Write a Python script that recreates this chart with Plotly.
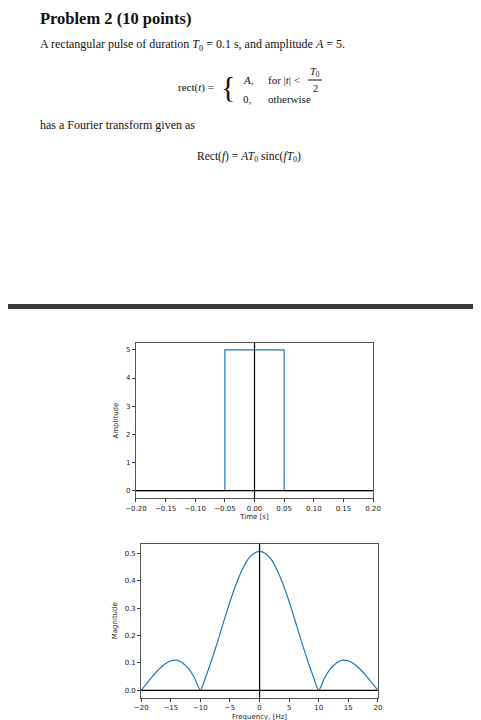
import plotly.graph_objects as go

# pulse
t = [-0.2, -0.05, -0.05, 0.05, 0.05, 0.2]
amp = [0, 0, 5, 5, 0, 0]

# magnitude spectrum
freq = list(range(-20, 21))
mag_half = [0.507, 0.499, 0.477, 0.437, 0.385, 0.323, 0.255, 0.184, 0.117, 0.055, 0.0,
            0.046, 0.079, 0.100, 0.110, 0.108, 0.096, 0.077, 0.054, 0.027, 0.0]
mag = mag_half[:0:-1] + mag_half

t_ticks = [-0.2, -0.15, -0.1, -0.05, 0.0, 0.05, 0.1, 0.15, 0.2]
t_labels = ["\u22120.20", "\u22120.15", "\u22120.10", "\u22120.05", "0.00", "0.05", "0.10", "0.15", "0.20"]
f_ticks = [-20, -15, -10, -5, 0, 5, 10, 15, 20]
f_labels = ["\u221220", "\u221215", "\u221210", "\u22125", "0", "5", "10", "15", "20"]

blue = "#1f77b4"
fig = go.Figure()
fig.add_trace(go.Scatter(x=t, y=amp, mode="lines", line=dict(color=blue, width=1.2), xaxis="x", yaxis="y"))
fig.add_trace(go.Scatter(x=freq, y=mag, mode="lines", line=dict(color=blue, width=1.2, shape="spline", smoothing=0.6),
                         xaxis="x2", yaxis="y2"))

ax = dict(showgrid=False, zeroline=False, showline=True, mirror=True, linecolor="#555", linewidth=1,
          automargin=False, ticks="outside", ticklen=3, tickcolor="#333",
          tickfont=dict(size=7, color="#222", family="DejaVu Sans"))
tf = dict(size=7, family="DejaVu Sans", color="#222")
fig.update_layout(
    width=481, height=720, margin=dict(l=0, r=0, t=0, b=0),
    paper_bgcolor="white", plot_bgcolor="white", showlegend=False,
    xaxis=dict(ax, domain=[0.266, 0.759], anchor="y", range=[-0.2, 0.2], tickvals=t_ticks, ticktext=t_labels,
               title=dict(text="Time [s]", font=tf, standoff=2)),
    yaxis=dict(ax, domain=[0.319, 0.535], anchor="x", range=[-0.27, 5.25], tickvals=[0, 1, 2, 3, 4, 5],
               title=dict(text="Amplitude", font=tf, standoff=6)),
    xaxis2=dict(ax, domain=[0.277, 0.769], anchor="y2", range=[-20, 20], tickvals=f_ticks, ticktext=f_labels,
                title=dict(text="Frequency, [Hz]", font=tf, standoff=2)),
    yaxis2=dict(ax, domain=[0.042, 0.256], anchor="x2", range=[-0.027, 0.535],
                tickvals=[0, 0.1, 0.2, 0.3, 0.4, 0.5], ticktext=["0.0", "0.1", "0.2", "0.3", "0.4", "0.5"],
                title=dict(text="Magnitude", font=tf, standoff=6)),
)

line_k = dict(color="black", width=1.2)
fig.add_shape(type="line", xref="x", yref="y domain", x0=0, x1=0, y0=0, y1=1, line=line_k)
fig.add_shape(type="line", xref="x domain", yref="y", x0=0, x1=1, y0=0, y1=0, line=line_k)
fig.add_shape(type="line", xref="x2", yref="y2 domain", x0=0, x1=0, y0=0, y1=1, line=line_k)
fig.add_shape(type="line", xref="x2 domain", yref="y2", x0=0, x1=1, y0=0, y1=0, line=line_k)

# dark separator band
fig.add_shape(type="rect", xref="paper", yref="paper", x0=0, x1=1, y0=1 - 301 / 720, y1=1 - 296 / 720,
              fillcolor="#3a3a3a", line=dict(width=0))

serif = "Liberation Serif"
def txt(x, y, s, size=12, anchor="left"):
    fig.add_annotation(x=x / 481, y=1 - y / 720, xref="paper", yref="paper", text=s, showarrow=False,
                       xanchor=anchor, yanchor="middle", font=dict(family=serif, size=size, color="#111"))

txt(30, 11, "<b>Problem 2 (10 points)</b>", size=16.5)
txt(30, 37, "A rectangular pulse of duration <i>T</i><sub>0</sub> = 0.1 s, and amplitude <i>A</i> = 5.", size=12)
txt(208, 79, "rect(<i>t</i>) =", size=11, anchor="right")
txt(211, 78, "{", size=30)
txt(233, 72, "<i>A</i>,", size=11)
txt(258, 72, "for |<i>t</i>| <", size=11)
txt(307, 64, "<i>T</i><sub>0</sub>", size=10.5, anchor="center")
txt(307, 80, "2", size=10.5, anchor="center")
fig.add_shape(type="line", xref="paper", yref="paper", x0=300 / 481, x1=314 / 481, y0=1 - 72 / 720, y1=1 - 72 / 720,
              line=dict(color="#111", width=1))
txt(233, 91, "0,", size=11)
txt(258, 91, "otherwise", size=11)
txt(30, 117, "has a Fourier transform given as", size=12)
txt(241, 149, "Rect(<i>f</i>) = <i>AT</i><sub>0</sub> sinc(<i>fT</i><sub>0</sub>)", size=11.5, anchor="center")

fig.write_html("out.html")
